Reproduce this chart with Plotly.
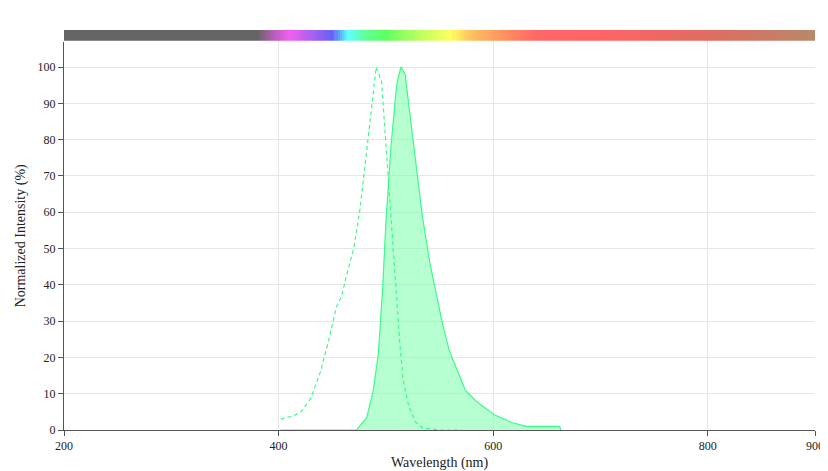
import plotly.graph_objects as go

ex_nm = [402,413,421,430,439,447,454,459,462,470,476,482,487,491,496,500,503,507,510,513,516,521,527,534,550,571]
ex_val = [3,3.8,5,8.7,16,25,34,37,41,50,61,76,90,100,96,79,66,50,36,24,14,7,2.4,0.6,0,0]
em_nm = [402,473,474,482,488,493,497,500,505,510,514,518,522,528,534,541,547,553,559,567,574,584,593,601,608,618,631,662,663]
em_val = [0,0,0.5,3.3,10.5,21,39,57,79,95,100,98,88,73,59,46,37,29,22,16,11,8,6,4.2,3.3,2,1,1,0]
bar_nm = [200,380,395,410,430,450,465,480,500,530,560,580,610,640,700,800,900]
bar_col = ["#646464","#646464","#b85cb8","#f060f0","#b060f0","#6262f8","#60ffff","#60ff9a","#60ff60","#b8ff60","#ffff60","#ffc060","#ff9060","#ff6868","#ff6464","#e06c62","#b88868"]
xticks = [200,400,600,800,900]
yticks = list(range(0,101,10))

fig = go.Figure()
fig.add_trace(go.Scatter(x=em_nm, y=em_val, mode="lines", line=dict(color="#3dfa8c", width=1.2),
                         fill="tozeroy", fillcolor="rgba(120,255,170,0.55)", hoverinfo="skip"))
fig.add_trace(go.Scatter(x=ex_nm, y=ex_val, mode="lines", line=dict(color="#3dfa8c", width=1.2, dash="4px,3px"), hoverinfo="skip"))
lo, hi = bar_nm[0], bar_nm[-1]
cs = [[(w-lo)/(hi-lo), c] for w, c in zip(bar_nm, bar_col)]
xs = list(range(200, 901, 2))
fig.add_trace(go.Heatmap(x=xs, y=[0], z=[xs], colorscale=cs, zmin=lo, zmax=hi, showscale=False,
                         xaxis="x", yaxis="y2", hoverinfo="skip"))
fig.update_layout(
    width=828, height=471, margin=dict(l=54, r=16, t=22, b=39),
    paper_bgcolor="white", plot_bgcolor="white", showlegend=False,
    font=dict(family="Liberation Serif", size=12, color="#222"),
    xaxis=dict(range=[200,900], tickvals=xticks, showgrid=True, gridcolor="#e6e6e6",
               showline=True, linecolor="#555", ticks="outside", ticklen=5, tickcolor="#555",
               zeroline=False, title=dict(text="Wavelength (nm)", standoff=4)),
    yaxis=dict(range=[0,107], tickvals=yticks, domain=[0,0.971], showgrid=True, gridcolor="#e6e6e6",
               showline=True, linecolor="#555", ticks="outside", ticklen=5, tickcolor="#555",
               zeroline=False, title=dict(text="Normalized Intensity (%)", standoff=8)),
    yaxis2=dict(domain=[0.973,1.0], showticklabels=False, showgrid=False, zeroline=False, range=[-0.5,0.5]),
)
fig.write_html("out.html")
